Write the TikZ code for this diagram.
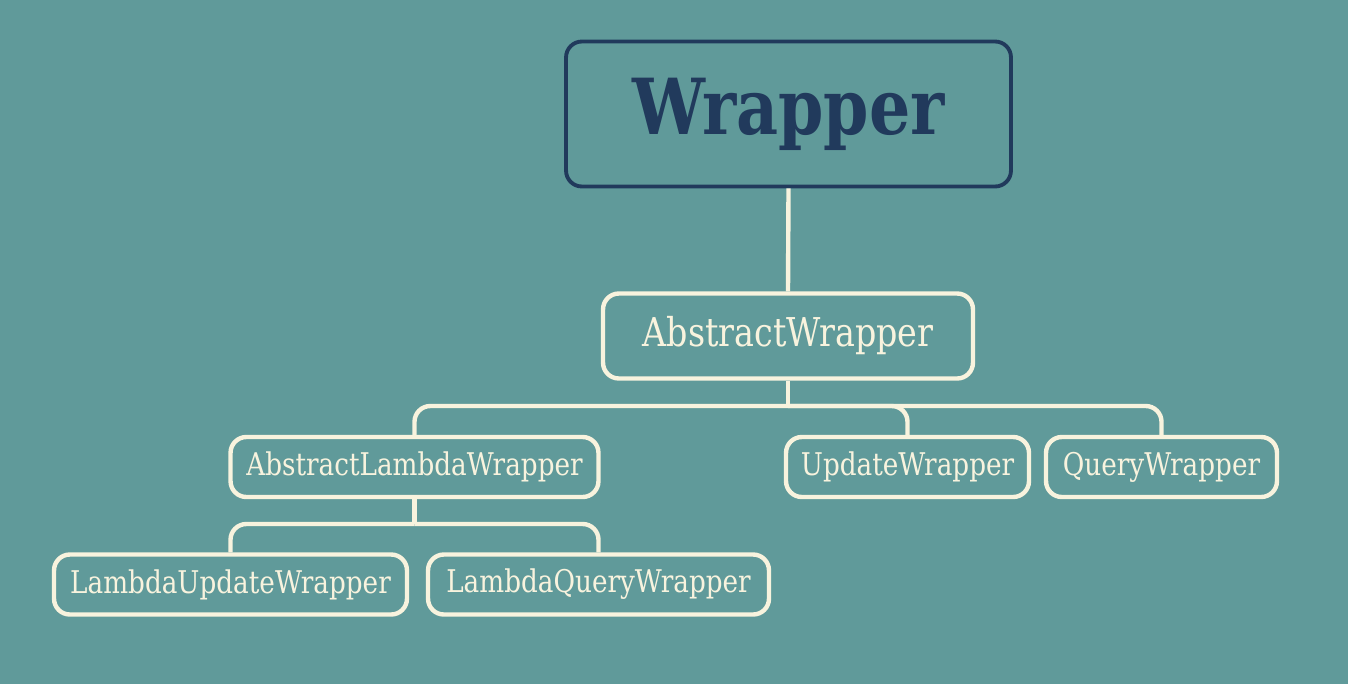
\documentclass[tikz,border=0pt]{standalone}
\usepackage{fontspec}
\setmainfont{DejaVu Serif}[FakeStretch=0.84]
\usetikzlibrary{positioning}
\definecolor{bgteal}{RGB}{96,154,154}
\definecolor{cream}{RGB}{248,243,222}
\definecolor{navy}{RGB}{33,58,92}

\begin{document}
\begin{tikzpicture}[
    x=0.02cm, y=-0.02cm,
    root/.style={draw=navy, line width=2.2pt, rounded corners=9pt, text=navy,
        font=\bfseries\fontsize{44}{48}\selectfont,
        minimum width=8.9cm, minimum height=2.9cm},
    cls/.style={draw=cream, line width=2.5pt, rounded corners=9pt, text=cream,
        font=\fontsize{17.8}{20}\selectfont, minimum height=1.2cm},
    link/.style={draw=cream, line width=2.5pt, rounded corners=9pt}
]

% background
\fill[bgteal] (0,0) rectangle (1348,684);

% classes
\node[root] (wrapper) at (788.5,114) {Wrapper};
\node[cls, minimum width=7.4cm, minimum height=1.7cm, font=\fontsize{22.6}{26}\selectfont]
    (abstract) at (788,336) {AbstractWrapper};
\node[cls, minimum width=7.36cm] (alw) at (414.5,467) {AbstractLambdaWrapper};
\node[cls, minimum width=4.86cm] (update) at (907.5,467) {UpdateWrapper};
\node[cls, minimum width=4.62cm] (query) at (1161.5,467) {QueryWrapper};
\node[cls, minimum width=7.06cm] (lupdate) at (230.5,584.5) {LambdaUpdateWrapper};
\node[cls, minimum width=6.82cm] (lquery) at (598.5,584.5) {LambdaQueryWrapper};

% buses
\coordinate (bus1) at (788,406);
\coordinate (bus2) at (414.5,524);

% inheritance lines
\draw[link] (wrapper.south) -- (abstract.north);
\draw[link] (abstract.south) -- (bus1);
\foreach \c in {alw, update, query}
    \draw[link] (bus1) -| (\c.north);
\draw[link] (alw.south) -- (bus2);
\foreach \c in {lupdate, lquery}
    \draw[link] (bus2) -| (\c.north);

\end{tikzpicture}
\end{document}
